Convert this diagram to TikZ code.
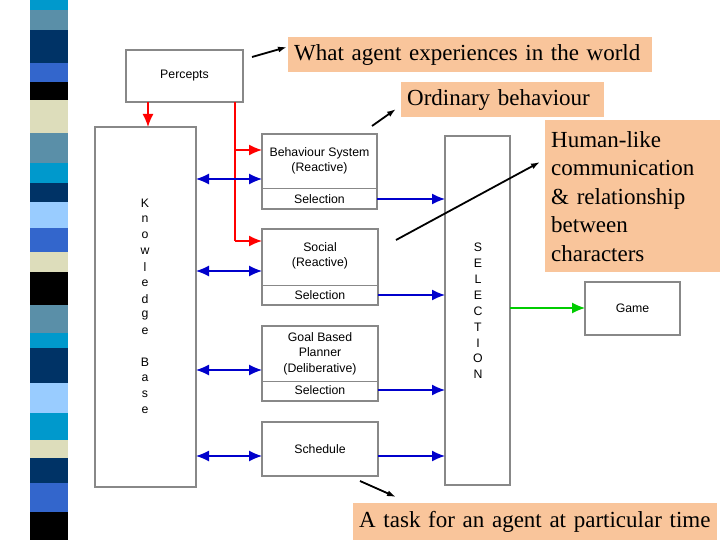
\documentclass[tikz,border=0pt]{standalone}
\usepackage{fontspec}
\setmainfont{Liberation Sans}
\newfontfamily\tnr{Liberation Serif}
\usetikzlibrary{arrows.meta}
\definecolor{cal}{HTML}{F9C59B}
\definecolor{sC}{HTML}{0099CC}\definecolor{sS}{HTML}{5A8FA8}\definecolor{sN}{HTML}{003366}
\definecolor{sB}{HTML}{3366CC}\definecolor{sK}{HTML}{000000}\definecolor{sE}{HTML}{DDDDBB}
\definecolor{sL}{HTML}{99CCFF}\definecolor{bl}{HTML}{0000CC}\definecolor{gr}{HTML}{888888}
\begin{document}
\begin{tikzpicture}[x=1pt,y=-1pt,
 box/.style={draw=gr,line width=1.2pt},
 lbl/.style={font=\fontsize{12.3}{15.5}\selectfont,align=center,inner sep=0pt},
 call/.style={fill=cal,font=\tnr\fontsize{23}{28.5}\selectfont,inner sep=6pt,align=left},
 blu/.style={draw=bl,line width=1.4pt,-{Latex[length=13pt,width=11pt]}},
 dblu/.style={draw=bl,line width=1.2pt,{Latex[length=13pt,width=11pt]}-{Latex[length=13pt,width=11pt]}},
 red/.style={draw=red,line width=1.4pt,-{Latex[length=13pt,width=11pt]}},
 blk/.style={draw=black,line width=1.8pt,-{Latex[length=9pt,width=6pt]}}]
\useasboundingbox (0,0) rectangle (720,540);
\fill[white] (0,0) rectangle (720,540);
\foreach \a/\b/\c in {0/10/sC,10/30/sS,30/63/sN,63/82/sB,82/100/sK,100/133/sE,133/163/sS,163/183/sC,183/202/sN,202/228/sL,228/252/sB,252/272/sE,272/305/sK,305/333/sS,333/348/sC,348/383/sN,383/413/sL,413/440/sC,440/458/sE,458/483/sN,483/512/sB,512/540/sK}
 \fill[\c] (30,\a) rectangle (68,\b);
\node[box,minimum width=117pt,minimum height=52pt,lbl] (perc) at (184.5,76) {Percepts};
\draw[box] (95,127) rectangle (196,487);
\foreach \t/\y in {K/203,n/219,o/235,w/251,l/267,e/283,d/299,g/315,e/331,B/362,a/378,s/394,e/410}
 \node[lbl] at (145,\y) {\t};
\draw[box] (445,136) rectangle (510,485);
\foreach \t/\y in {S/247,E/263,L/279,E/295,C/311,T/327,I/343,O/358,N/374}
 \node[lbl] at (478,\y) {\t};
\draw[box] (262,134) rectangle (377,209); \draw[gr,line width=1pt] (262,189)--(377,189);
\node[lbl] at (319.5,161) {Behaviour System\\(Reactive)}; \node[lbl] at (319.5,199) {Selection};
\draw[box] (262,229) rectangle (378,305); \draw[gr,line width=1pt] (262,285)--(378,285);
\node[lbl] at (320,256) {Social\\(Reactive)}; \node[lbl] at (320,295) {Selection};
\draw[box] (262,326) rectangle (378,401); \draw[gr,line width=1pt] (262,381)--(378,381);
\node[lbl] at (320,353.5) {Goal Based\\Planner\\(Deliberative)}; \node[lbl] at (320,390) {Selection};
\draw[box] (262,422) rectangle (378,476); \node[lbl] at (320,449) {Schedule};
\node[box,minimum width=95pt,minimum height=53pt,lbl] (game) at (632.5,308.5) {Game};
\draw[red] (148,102)--(148,127);
\draw[draw=red,line width=1.4pt] (235,102)--(235,241);
\draw[red] (235,150)--(262,150);
\draw[red] (235,241)--(262,241);
\foreach \y in {179,271,370,456} \draw[dblu] (196,\y)--(262,\y);
\draw[blu] (377,199)--(445,199);
\draw[blu] (378,295)--(445,295);
\draw[blu] (378,390)--(445,390);
\draw[blu] (378,456)--(445,456);
\draw[draw=green!80!black,line width=1.2pt,-{Latex[length=13pt,width=11pt]}] (510,308)--(585,308);
\node[call,anchor=north west,minimum width=364pt,minimum height=35pt,text width=352pt] (c1) at (288,37) {What agent experiences in the world};
\node[call,anchor=north west,minimum width=203pt,minimum height=35pt,text width=191pt] (c2) at (401,82) {Ordinary behaviour};
\node[call,anchor=north west,minimum width=175pt,minimum height=152pt,text width=163pt,inner ysep=4pt] (c3) at (545,120) {Human-like\\communication\\\& relationship\\between\\characters};
\node[call,anchor=north west,minimum width=364pt,minimum height=37pt,text width=352pt] (c4) at (353,503) {A task for an agent at particular time};
\draw[blk] (252,57)--(287,47);
\draw[blk] (372,126)--(396,109);
\draw[blk] (396,240)--(540,162);
\draw[blk] (360,481)--(396,497);
\end{tikzpicture}
\end{document}
